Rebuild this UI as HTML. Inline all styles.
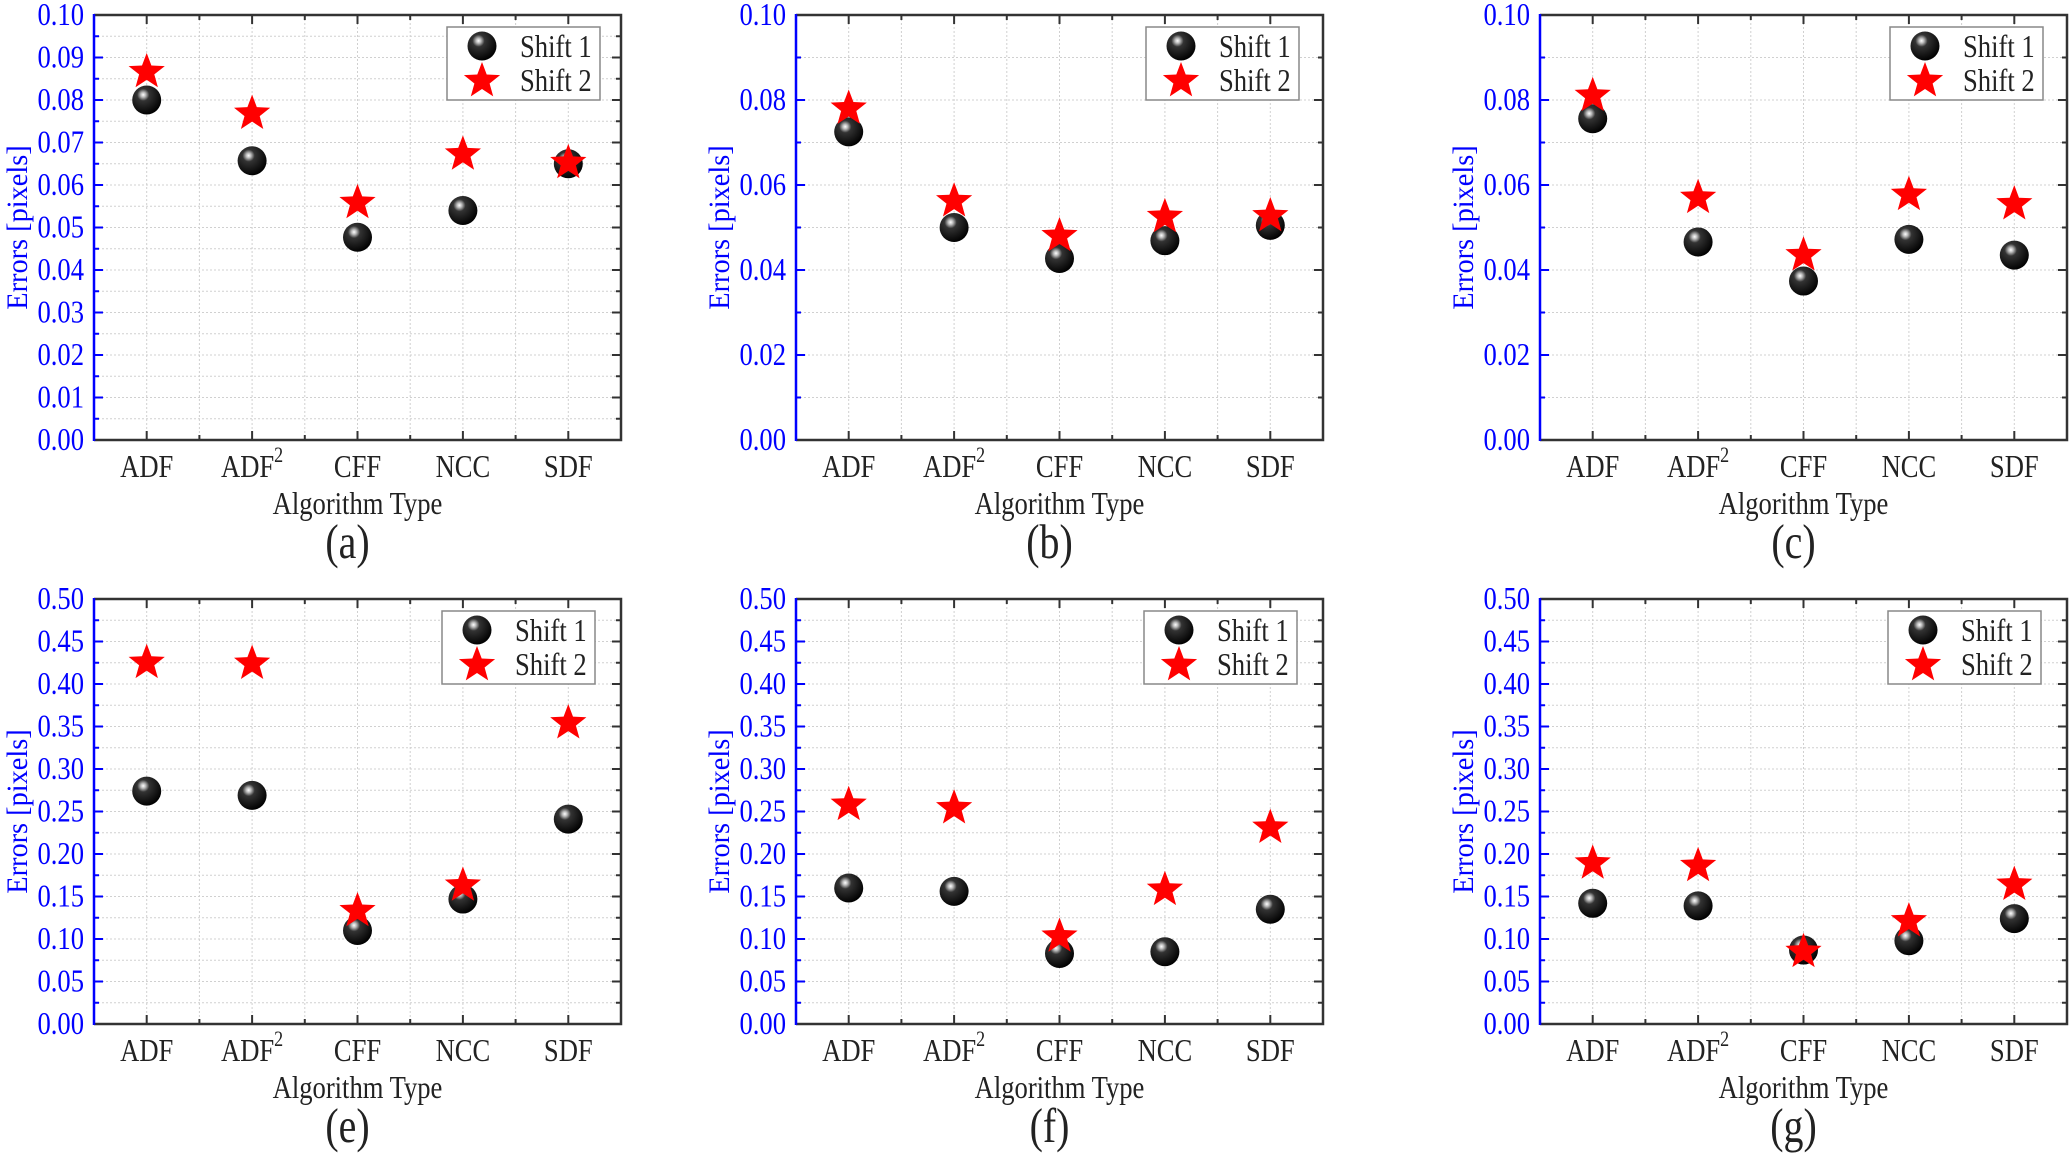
<!DOCTYPE html>
<html><head><meta charset="utf-8">
<style>
html,body{margin:0;padding:0;background:#fff;}
svg{display:block;font-family:"Liberation Serif","Times New Roman",serif;}
</style></head>
<body>
<svg id="s" width="2070" height="1156" viewBox="0 0 2070 1156" xmlns="http://www.w3.org/2000/svg">
<defs>
<radialGradient id="sph" cx="0.38" cy="0.32" r="0.7">
<stop offset="0" stop-color="#ffffff"/>
<stop offset="0.12" stop-color="#bbbbbb"/>
<stop offset="0.3" stop-color="#333333"/>
<stop offset="1" stop-color="#000000"/>
</radialGradient>
</defs>
</svg>
<script>
const NS="http://www.w3.org/2000/svg";
const svg=document.getElementById('s');
function el(t,a,p){const e=document.createElementNS(NS,t);for(const k in a)e.setAttribute(k,a[k]);(p||svg).appendChild(e);return e;}
function star(cx,cy,R){const r=R*0.42;let d='';for(let i=0;i<10;i++){const rr=i%2?r:R;const a=-Math.PI/2+i*Math.PI/5;d+=(i?'L':'M')+(cx+rr*Math.cos(a)).toFixed(1)+' '+(cy+rr*Math.sin(a)).toFixed(1);}return d+'Z';}
function sphere(cx,cy){el('circle',{cx:cx,cy:cy,r:14.5,fill:'url(#sph)'});}
function starM(cx,cy){el('path',{d:star(cx,cy,19),fill:'#ff0000'});}
// text with vertical stretch
function txt(x,y,s,size,fill,anchor,extra){
 const g=el('g',{transform:`translate(${x} ${y}) scale(0.95 1.15)`});
 const t=el('text',Object.assign({x:0,y:0,'text-anchor':anchor||'middle','dominant-baseline':'central','font-size':size,fill:fill||'#222'},extra||{}),g);
 t.textContent=s;return t;}
const cats=['ADF','ADF2','CFF','NCC','SDF'];
const panels=[
 {L:94,T:15,B:440,max:0.10,maj:0.01,lab:'(a)',s1:[.080,.0657,.0477,.054,.065],s2:[.0866,.0768,.0558,.0672,.0652],lx:353},
 {L:796,T:15,B:440,max:0.10,maj:0.02,lab:'(b)',s1:[.0725,.050,.0427,.0469,.0505],s2:[.078,.0562,.048,.0525,.0527],lx:350},
 {L:1540,T:15,B:440,max:0.10,maj:0.02,lab:'(c)',s1:[.0756,.0466,.0374,.0472,.0435],s2:[.081,.057,.0435,.0577,.0555],lx:350},
 {L:94,T:599,B:1024,max:0.50,maj:0.05,lab:'(e)',s1:[.274,.269,.110,.147,.241],s2:[.425,.424,.133,.163,.354],lx:348},
 {L:796,T:599,B:1024,max:0.50,maj:0.05,lab:'(f)',s1:[.160,.156,.083,.085,.135],s2:[.258,.254,.103,.158,.231],lx:348},
 {L:1540,T:599,B:1024,max:0.50,maj:0.05,lab:'(g)',s1:[.142,.139,.087,.098,.124],s2:[.189,.186,.085,.121,.164],lx:348}
];
const W=527;
panels.forEach(p=>{
 const L=p.L,R=L+W,T=p.T,B=p.B,H=B-T;
 const y=v=>B-v/p.max*H;
 const step=W/5;
 const cx=i=>L+step*(i+0.5);
 const n=Math.round(p.max/p.maj);
 for(let i=0;i<=2*n;i++){const yy=B-i*H/(2*n);
  if(i>0&&i<2*n)el('line',{x1:L,x2:R,y1:yy,y2:yy,stroke:'#d0d0d0','stroke-width':1,'stroke-dasharray':'2,2'});
  const len=i%2?5:9;
  el('line',{x1:L,x2:L+len,y1:yy,y2:yy,stroke:'#0000ff','stroke-width':2});
  el('line',{x1:R,x2:R-len,y1:yy,y2:yy,stroke:'#333','stroke-width':2});
  if(i%2==0)txt(L-10,yy,(i/2*p.maj).toFixed(2),28,'#0000ff','end');
 }
 for(let i=1;i<10;i++){const xx=L+i*W/10;
  el('line',{x1:xx,x2:xx,y1:T,y2:B,stroke:'#d0d0d0','stroke-width':1,'stroke-dasharray':'2,2'});
  const len=i%2?9:5;
  el('line',{x1:xx,x2:xx,y1:B,y2:B-len,stroke:'#333','stroke-width':2});
  el('line',{x1:xx,x2:xx,y1:T,y2:T+len,stroke:'#333','stroke-width':2});
 }
 el('path',{d:`M${L} ${T}H${R}V${B}H${L}`,fill:'none',stroke:'#333','stroke-width':2.5});
 el('line',{x1:L,x2:L,y1:T-1,y2:B+1,stroke:'#0000ff','stroke-width':2.5});
 cats.forEach((c,i)=>{
  if(c==='ADF2'){const t=txt(cx(i),B+27,'ADF',28);t.textContent='ADF';const s=el('tspan',{'font-size':19,dy:-10},t);s.textContent='2';}
  else txt(cx(i),B+27,c,28);
 });
 txt(L+W/2,B+64,'Algorithm Type',28);
 txt(L+W/2-10,B+102,p.lab,42);
 const g=el('g',{transform:`translate(${L-76} ${(T+B)/2}) rotate(-90) scale(1.05 1.1)`});
 const t=el('text',{x:0,y:0,'text-anchor':'middle','dominant-baseline':'central','font-size':27,fill:'#0000ff'},g);t.textContent='Errors [pixels]';
 p.s1.forEach((v,i)=>sphere(cx(i),y(v)));
 p.s2.forEach((v,i)=>starM(cx(i),y(v)));
 const lx=L+p.lx,ly=T+12;
 el('rect',{x:lx,y:ly,width:153,height:73,fill:'#fff',stroke:'#888','stroke-width':1.5});
 sphere(lx+35,ly+19);starM(lx+35,ly+54);
 txt(lx+73,ly+20,'Shift 1',28,'#222','start');
 txt(lx+73,ly+54,'Shift 2',28,'#222','start');
});
</script>
</body></html>
